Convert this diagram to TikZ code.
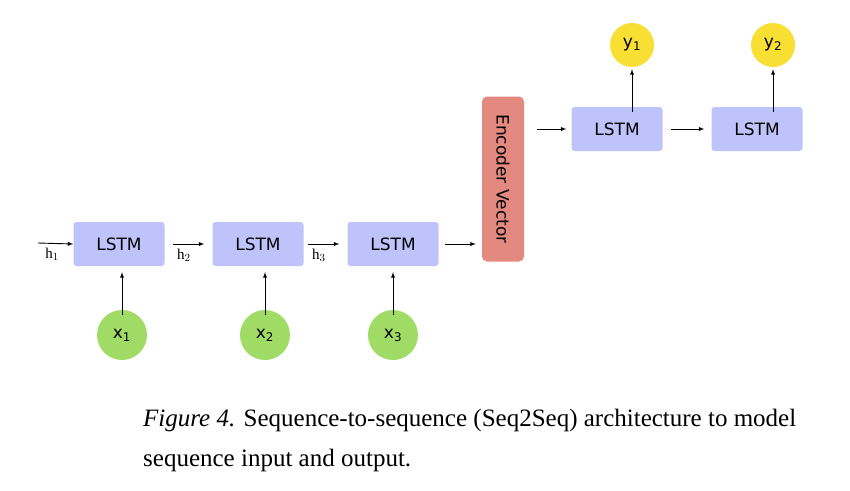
\documentclass[tikz,border=0pt]{standalone}
\usepackage{fontspec}
\setmainfont{Liberation Serif}
\newfontfamily\dvs{DejaVu Sans}
\begin{document}
\begin{tikzpicture}[x=1pt,y=-1pt,
 lstm/.style={draw=none,fill=lstmc,rounded corners=3pt,minimum width=91pt,minimum height=44pt,font=\dvs\fontsize{17}{20}\selectfont},
 inp/.style={circle,fill=inc,minimum size=50pt,inner sep=0pt,font=\dvs\fontsize{17}{20}\selectfont},
 outp/.style={circle,fill=outc,minimum size=44pt,inner sep=0pt,font=\dvs\fontsize{17}{20}\selectfont},
 arr/.style={-latex,line width=0.9pt},
 hl/.style={font=\fontsize{15}{17}\selectfont}]
\definecolor{lstmc}{HTML}{BFC3FB}
\definecolor{inc}{HTML}{9FDB65}
\definecolor{outc}{HTML}{F8DF33}
\definecolor{encc}{HTML}{E3897F}
\useasboundingbox (0,0) rectangle (850,490);
\node[lstm] (l1) at (119,244) {LSTM};
\node[lstm] (l2) at (258,244) {LSTM};
\node[lstm] (l3) at (393,244) {LSTM};
\node[rounded corners=5pt,fill=encc,minimum width=42pt,minimum height=165pt,font=\dvs\fontsize{17}{20}\selectfont] (enc) at (503,179) {\rotatebox{-90}{Encoder Vector}};
\node[lstm] (d1) at (617,129) {LSTM};
\node[lstm] (d2) at (757,129) {LSTM};
\node[inp] (x1) at (122,335) {x\textsubscript{1}};
\node[inp] (x2) at (265,335) {x\textsubscript{2}};
\node[inp] (x3) at (393,335) {x\textsubscript{3}};
\node[outp] (y1) at (632,45) {y\textsubscript{1}};
\node[outp] (y2) at (773,45) {y\textsubscript{2}};
\coordinate (s) at (38,243);
\draw[arr] (s) -- (l1.west) node[hl,pos=0.4,below=1pt] {h$_1$};
\draw[arr] ([xshift=8pt]l1.east) -- ([xshift=-8pt]l2.west) node[hl,pos=0.35,below=1pt] {h$_2$};
\draw[arr] ([xshift=4pt]l2.east) -- ([xshift=-8pt]l3.west) node[hl,pos=0.35,below=1pt] {h$_3$};
\draw[arr] ([xshift=6pt]l3.east) -- ([xshift=-6pt]enc.west|-l3.east);
\draw[arr] ([xshift=13pt]enc.east|-d1.west) -- ([xshift=-5pt]d1.west);
\draw[arr] ([xshift=8pt]d1.east) -- ([xshift=-7pt]d2.west);
\foreach \x/\l in {x1/l1,x2/l2,x3/l3}{\draw[arr] ([yshift=-5pt]\x.north) -- ([yshift=-6pt]\x.north|-\l.south);}
\foreach \y/\d in {y1/d1,y2/d2}{\draw[arr] ([yshift=-5pt]\y.south|-\d.north) -- ([yshift=-2pt]\y.south);}
\node[anchor=west,font=\fontsize{25}{40}\selectfont,align=left,inner sep=0pt] (cap) at (143,440) {\textit{Figure 4.} Sequence-to-sequence (Seq2Seq) architecture to model\\sequence input and output.};
\end{tikzpicture}
\end{document}
